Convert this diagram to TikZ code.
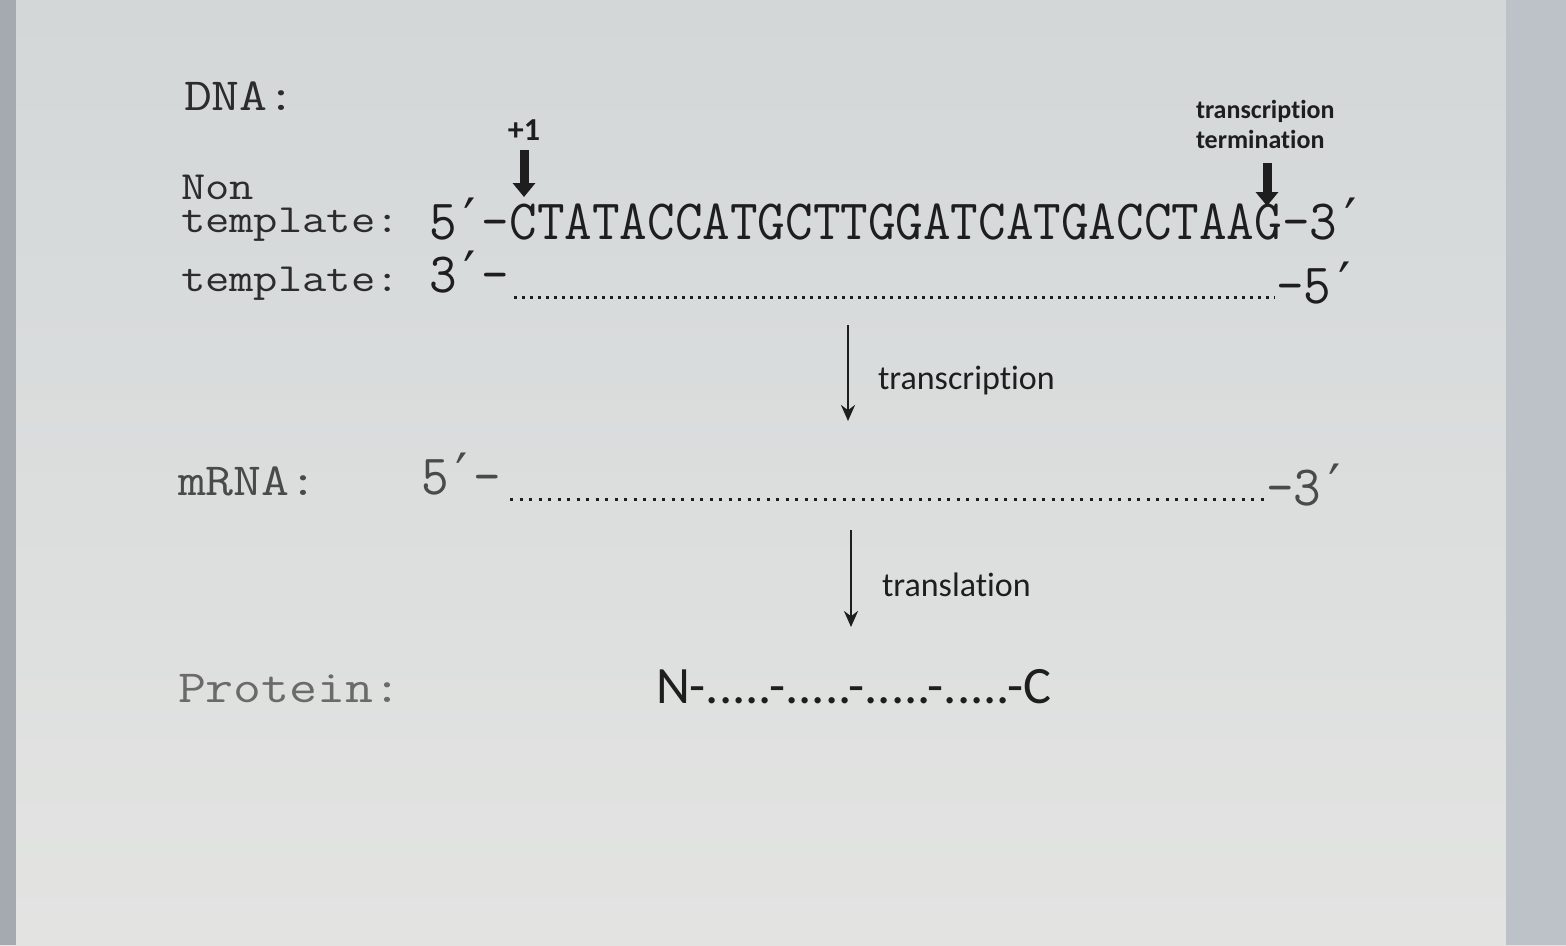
\documentclass[tikz,border=0pt]{standalone}
\usepackage{fontspec}
\usepackage{graphicx}
\usetikzlibrary{arrows.meta}
\newfontfamily\primef{DejaVu Sans Mono}
\newfontfamily\calf[Ligatures=NoCommon]{Carlito}
\newcommand\seqtxt[1]{\scalebox{0.94}[1]{#1}}
\newcommand\labtxt[1]{\scalebox{1.18}[1]{#1}}
\newcommand\primemark{{\primef\kern-0.05em ′\kern-0.08em}}
\definecolor{ink}{HTML}{1E1E1E}
\definecolor{labink}{HTML}{2C2C2C}
\definecolor{greyink}{HTML}{4A4A4A}
\definecolor{protink}{HTML}{6A6A6A}
\definecolor{bgtop}{HTML}{D3D7D8}
\definecolor{bgbot}{HTML}{E3E4E2}
\definecolor{bezelL}{HTML}{A4AAB0}
\definecolor{bezelR}{HTML}{BCC2C7}
\tikzset{
  lblbig/.style={font=\ttfamily\fontsize{46}{48}\selectfont, text=labink},
  lblsm/.style={font=\ttfamily\fontsize{40}{42}\selectfont, text=labink},
  seqstyle/.style={font=\ttfamily\fontsize{57}{59}\selectfont, text=ink},
  calbold/.style={font=\calf\bfseries\fontsize{26}{28}\selectfont, text=ink},
  calplus/.style={font=\calf\bfseries\fontsize{32}{34}\selectfont, text=ink},
  calreg/.style={font=\calf\fontsize{34}{36}\selectfont, text=ink},
  calbig/.style={font=\calf\fontsize{52.5}{54}\selectfont, text=ink},
  blockarrow/.style={draw=ink, line width=9pt, -{Triangle[width=22pt,length=14pt]}},
  thinarrow/.style={draw=ink, line width=2.8pt, -{Stealth[width=14pt,length=16pt]}},
  dotline/.style={draw=ink, line width=3pt, dash pattern=on 3pt off 5pt},
}
\begin{document}
\begin{tikzpicture}[x=1pt,y=-1pt, every node/.style={inner sep=0pt, outer sep=0pt, anchor=base west}]
\useasboundingbox (0,0) rectangle (1566,945);
\shade[top color=bgtop, bottom color=bgbot] (0,0) rectangle (1566,945);
\fill[bezelL] (0,0) rectangle (16,945);
\fill[bezelR] (1506,0) rectangle (1566,945);

% DNA block
\node[lblbig] (dna) at (184,110) {\labtxt{DNA:}};
\node[calplus, anchor=base] (p1) at (524,140) {+1};
\coordinate (a1s) at (524,150);
\coordinate (a1e) at (524,197);
\draw[blockarrow] (a1s) -- (a1e);

\node[calbold] (tt1) at (1196,118) {transcription};
\node[calbold] (tt2) at (1196,148) {termination};
\coordinate (a2s) at (1267,163);
\coordinate (a2e) at (1267,206);
\draw[blockarrow] (a2s) -- (a2e);

\node[lblsm] (non) at (181,199) {\labtxt{Non}};
\node[lblsm] (tpl1) at (181,232) {\labtxt{template:}};
\node[seqstyle] (seq) at (429,239) {\seqtxt{5\primemark-CTATACCATGCTTGGATCATGACCTAAG-3\primemark}};

\node[lblsm] (tpl2) at (181,291) {\labtxt{template:}};
\node[seqstyle] (t3) at (429,292) {\seqtxt{3\primemark-}};
\coordinate (td1) at (514,297);
\coordinate (td2) at (1275,297);
\draw[dotline] (td1) -- (td2);
\node[seqstyle] (t5) at (1276,303) {\seqtxt{-5\primemark}};

% transcription arrow
\coordinate (tr1) at (848,325);
\coordinate (tr2) at (848,421);
\draw[thinarrow] (tr1) -- (tr2);
\node[calreg] (trl) at (878,389) {transcription};

% mRNA
\node[lblbig, text=greyink] (mrna) at (178,495) {\labtxt{mRNA:}};
\node[seqstyle, text=greyink] (m5) at (421,494) {\seqtxt{5\primemark-}};
\coordinate (md1) at (510,499);
\coordinate (md2) at (1268,499);
\draw[dotline, dash pattern=on 3pt off 6.5pt] (md1) -- (md2);
\node[seqstyle, text=greyink] (m3) at (1266,505) {\seqtxt{-3\primemark}};

% translation arrow
\coordinate (tl1) at (851,530);
\coordinate (tl2) at (851,627);
\draw[thinarrow] (tl1) -- (tl2);
\node[calreg] (tll) at (882,596) {translation};

% Protein
\node[lblbig, text=protink] (prot) at (178,702) {\labtxt{Protein:}};
\node[calbig] (pep) at (656,703) {N-.....-.....-.....-.....-C};
\end{tikzpicture}
\end{document}
